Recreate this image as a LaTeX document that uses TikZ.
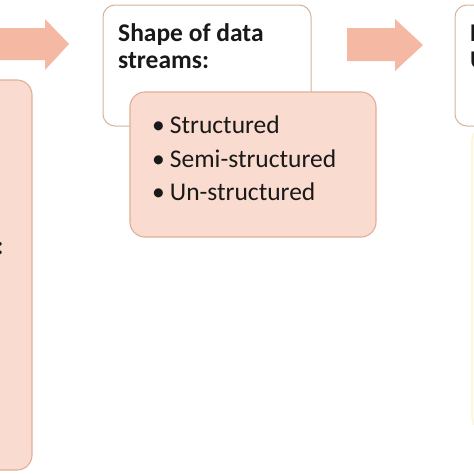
\documentclass[tikz,border=0pt]{standalone}
\usepackage{fontspec}
\setmainfont{Carlito}
\definecolor{peachfill}{HTML}{FADBCF}
\definecolor{peachline}{HTML}{E2AE98}
\definecolor{whiteline}{HTML}{D2B49E}
\definecolor{arrowfill}{HTML}{F4B8A3}
\definecolor{yelfill}{HTML}{FFFDF4}
\definecolor{yelline}{HTML}{FDF3CC}
\tikzset{
  peachbox/.style={draw=peachline, fill=peachfill, line width=1.1pt, rounded corners=15pt},
  whitebox/.style={draw=whiteline, fill=white, line width=1pt, rounded corners=12pt},
  yelbox/.style={draw=yelline, fill=yelfill, line width=1.2pt, rounded corners=12pt},
  blockarrow/.style={fill=arrowfill, draw=none},
  titletext/.style={font=\fontsize{25.5}{27}\selectfont\bfseries, anchor=base west, inner sep=0pt, text=black!90},
  itemtext/.style={font=\fontsize{25.5}{30}\selectfont, anchor=base west, inner sep=0pt, text=black!90}
}
\begin{document}
\begin{tikzpicture}[x=1pt,y=-1pt]
\useasboundingbox (0,0) rectangle (474,474);
\fill[white] (0,0) rectangle (474,474);
\clip (0,0) rectangle (474,474);
% left column
\draw[blockarrow] (-20,28) -- (45,28) -- (45,19) -- (69,44) -- (45,70) -- (45,60) -- (-20,60) -- cycle;
\draw[peachbox] (-40,80) rectangle (32,470);
\node[titletext, anchor=base east] (leftcolon) at (3.5,254) {s:};
% middle column
\draw[whitebox] (103,5) rectangle (311,126);
\node[titletext] (title1) at (118,41) {Shape of data};
\node[titletext] (title2) at (118,68) {streams:};
\draw[peachbox] (130,92) rectangle (376,237);
\node[itemtext] (item1) at (152,133) {\textbullet\hspace{5pt}Structured};
\node[itemtext] (item2) at (152,167) {\textbullet\hspace{5pt}Semi-structured};
\node[itemtext] (item3) at (152,200) {\textbullet\hspace{5pt}Un-structured};
\draw[blockarrow] (347,28) -- (395,28) -- (395,19) -- (423,45) -- (395,71) -- (395,61) -- (347,61) -- cycle;
% right column
\draw[yelbox] (472,128) rectangle (540,430);
\draw[whitebox] (455,5) rectangle (560,126);
\node[titletext] (rtitle1) at (470,41) {P};
\node[titletext] (rtitle2) at (470,68) {U};
\end{tikzpicture}
\end{document}
